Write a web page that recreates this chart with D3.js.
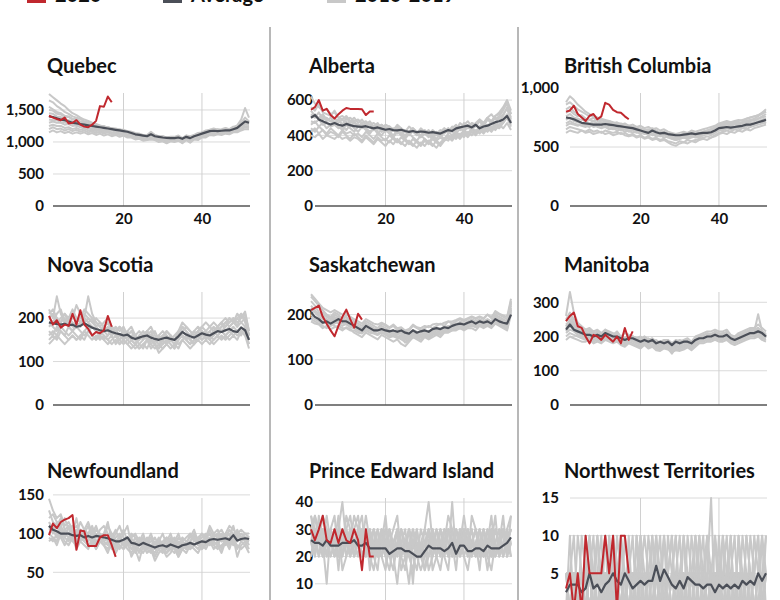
<!DOCTYPE html>
<html>
<head>
<meta charset="utf-8">
<script src="https://cdn.jsdelivr.net/npm/d3@7"></script>
<title>Weekly deaths by province</title>
<style>
body {margin:0; background:#fff;}
text {font-family: Lato, "Open Sans", sans-serif; font-weight:700;}
</style>
</head>
<body>
<div id="chart"></div>
<script>
// ---- data ----
const weeks = d3.range(1, 53);
const xTicks = [20, 40];
const legendLabels = ["2020", "Average", "2010-2019"];
const provinces = ["Quebec", "Alberta", "British Columbia", "Nova Scotia", "Saskatchewan",
                   "Manitoba", "Newfoundland", "Prince Edward Island", "Northwest Territories"];

// Quebec
const quebecTicks = [0, 500, 1000, 1500];
const quebec2020 = [1410,1380,1360,1340,1380,1290,1300,1340,1270,1240,1230,1270,1330,1560,1550,1710,1620];
const quebecAvg = [1400,1390,1370,1350,1340,1320,1300,1290,1280,1270,1260,1250,1240,
  1230,1220,1210,1200,1190,1180,1170,1160,1140,1120,1110,1100,1090,
  1120,1090,1080,1070,1065,1060,1060,1070,1050,1080,1060,1090,1110,
  1130,1150,1170,1175,1170,1175,1180,1180,1200,1220,1270,1320,1300];
const quebecPast = [
  [1750,1700,1650,1600,1560,1500,1450,1420,1380,1350,1330,1300,1280,
   1260,1240,1230,1210,1190,1180,1160,1150,1130,1110,1100,1090,1080,
   1130,1090,1070,1060,1050,1040,1050,1060,1040,1070,1050,1080,1100,
   1120,1150,1170,1180,1170,1180,1190,1200,1220,1260,1350,1530,1380],
  [1650,1620,1560,1520,1470,1440,1400,1380,1360,1320,1310,1280,1270,
   1250,1250,1220,1220,1200,1200,1170,1160,1140,1130,1100,1090,1070,
   1110,1080,1070,1050,1050,1040,1040,1050,1030,1060,1040,1070,1090,
   1120,1140,1160,1180,1160,1170,1190,1190,1210,1250,1300,1380,1320],
  [1450,1440,1400,1390,1350,1340,1320,1310,1290,1290,1270,1270,1250,
   1250,1230,1230,1210,1210,1190,1190,1170,1160,1140,1130,1110,1110,
   1160,1110,1090,1090,1070,1080,1080,1100,1060,1100,1090,1110,1140,
   1150,1180,1190,1210,1190,1200,1220,1200,1240,1250,1290,1330,1310],
  [1350,1340,1340,1310,1310,1280,1280,1250,1260,1230,1240,1210,1220,
   1190,1200,1180,1190,1160,1170,1140,1150,1110,1120,1090,1100,1070,
   1100,1080,1080,1050,1060,1040,1070,1050,1050,1060,1060,1070,1110,
   1110,1150,1150,1180,1150,1180,1160,1190,1180,1220,1240,1300,1280],
  [1300,1320,1300,1300,1270,1280,1250,1260,1230,1240,1210,1220,1190,
   1200,1170,1180,1150,1160,1130,1140,1110,1110,1080,1090,1060,1070,
   1080,1070,1040,1050,1020,1040,1030,1060,1020,1060,1030,1070,1070,
   1110,1110,1150,1140,1160,1150,1170,1160,1190,1190,1250,1270,1270],
  [1250,1270,1250,1250,1220,1230,1200,1220,1190,1210,1180,1190,1170,
   1180,1150,1170,1140,1150,1130,1140,1100,1110,1070,1080,1050,1060,
   1070,1060,1030,1040,1010,1030,1020,1050,1010,1050,1020,1060,1060,
   1100,1100,1140,1130,1150,1140,1160,1150,1180,1180,1230,1240,1250],
  [1200,1230,1200,1210,1180,1200,1170,1190,1160,1180,1150,1170,1140,
   1160,1130,1150,1120,1130,1110,1120,1090,1090,1050,1060,1030,1040,
   1050,1040,1010,1020,990,1020,1010,1030,990,1040,1000,1050,1050,
   1090,1090,1130,1120,1140,1130,1150,1140,1170,1170,1200,1230,1220],
  [1150,1180,1150,1170,1140,1160,1130,1150,1130,1150,1120,1140,1110,
   1130,1100,1120,1090,1110,1080,1100,1070,1070,1040,1050,1020,1030,
   1040,1030,1000,1010,980,1010,1000,1020,980,1030,990,1040,1030,
   1070,1070,1110,1100,1120,1110,1130,1120,1150,1150,1180,1200,1200],
  [1500,1490,1440,1430,1390,1390,1350,1350,1310,1310,1280,1280,1250,
   1250,1220,1230,1200,1200,1170,1180,1140,1150,1120,1130,1100,1100,
   1130,1110,1080,1090,1060,1070,1060,1090,1050,1100,1060,1110,1110,
   1150,1150,1190,1180,1200,1180,1210,1190,1230,1230,1280,1320,1300],
  [1550,1510,1470,1450,1410,1400,1360,1360,1320,1320,1280,1280,1250,
   1250,1210,1220,1190,1190,1160,1170,1140,1140,1110,1110,1080,1090,
   1110,1090,1060,1070,1040,1060,1050,1080,1040,1090,1050,1100,1100,
   1140,1140,1180,1170,1190,1170,1200,1180,1220,1220,1270,1310,1290]
];

// Alberta
const albertaTicks = [0, 200, 400, 600];
const alberta2020 = [545,560,600,540,550,515,495,520,540,555,550,550,550,548,515,535,535];
const albertaAvg = [500,515,490,480,470,462,470,460,455,465,458,452,450,
  448,452,445,440,445,438,432,436,430,428,432,425,420,
  425,418,422,420,415,418,414,410,420,430,425,440,445,
  450,455,445,460,440,450,455,465,475,480,490,510,470];
const albertaPast = [
  [560,540,580,530,520,510,540,500,490,510,480,500,470,
   490,460,480,450,470,440,460,450,430,460,440,420,450,
   430,410,440,420,400,430,410,400,430,420,450,430,470,
   450,440,470,460,490,470,500,480,510,530,560,600,540],
  [520,500,530,490,500,480,470,490,460,480,450,470,460,
   440,470,450,430,460,440,420,450,430,410,440,420,400,
   430,410,390,420,400,380,410,390,420,440,420,450,430,
   460,480,450,470,490,470,500,520,490,510,540,590,520],
  [480,470,490,460,470,450,460,440,450,430,460,440,420,
   450,430,410,440,420,400,430,410,390,420,400,380,410,
   390,370,400,380,360,390,370,350,380,400,390,420,400,
   430,410,440,420,450,430,460,440,470,460,490,520,480],
  [400,390,410,380,400,390,380,400,380,390,370,390,380,
   360,390,370,350,380,360,340,370,350,380,360,340,370,
   350,330,360,340,370,350,330,360,380,370,400,380,410,
   390,420,400,430,410,440,420,450,430,460,440,470,430],
  [500,520,490,510,480,500,470,490,460,500,470,480,450,
   470,440,460,450,430,460,440,420,440,420,400,430,410,
   440,420,400,430,410,390,420,400,380,410,430,410,440,
   420,450,430,460,440,470,450,480,470,500,520,550,490],
  [460,480,450,470,440,460,480,450,430,460,440,420,450,
   470,440,420,440,410,430,450,420,400,430,410,390,420,
   440,410,390,410,430,400,380,410,440,420,400,430,450,
   430,460,440,420,450,470,450,430,460,490,470,510,460],
  [540,510,500,520,490,480,500,470,490,460,480,470,450,
   460,440,460,430,450,420,440,410,430,450,420,400,420,
   440,410,430,410,390,420,400,420,440,410,440,460,430,
   470,450,430,460,480,450,490,470,500,480,510,560,500],
  [440,420,450,430,410,440,420,400,430,410,420,400,410,
   390,420,400,380,410,390,370,400,380,360,390,370,350,
   380,360,340,370,350,380,360,340,370,390,370,400,380,
   410,390,420,400,430,410,440,420,450,440,470,500,450],
  [620,580,560,540,550,520,530,500,510,490,500,480,490,
   470,480,460,470,450,460,440,450,430,440,420,430,410,
   420,400,430,410,420,400,410,430,410,440,420,450,430,
   460,440,470,450,480,460,490,480,510,520,550,580,520],
  [420,440,410,430,400,420,410,390,420,400,380,410,390,
   370,400,380,360,390,370,380,360,390,370,350,380,360,
   340,370,350,380,360,340,370,390,370,400,380,410,390,
   420,400,430,410,440,420,450,440,460,450,480,510,470]
];

// British Columbia
const bcTicks = [0, 500, 1000];
const bc2020 = [800,810,850,780,750,720,765,780,735,760,875,860,815,795,790,760,735];
const bcAvg = [750,745,735,720,705,700,695,690,690,690,695,690,685,
  680,675,670,665,660,650,640,630,620,640,625,615,620,
  610,605,600,600,605,610,615,610,615,620,620,625,640,
  660,665,670,665,670,675,680,690,690,700,710,720,730];
const bcPast = [
  [880,930,900,860,830,800,780,760,740,730,720,710,700,
   690,680,670,660,650,640,630,620,610,630,620,600,610,
   590,580,570,580,590,600,610,600,610,620,630,640,650,
   670,680,690,680,690,700,710,720,730,740,760,790,820],
  [820,840,800,780,760,740,730,720,730,710,700,720,690,
   700,680,690,670,660,670,650,640,630,650,620,630,610,
   600,590,580,590,600,580,590,600,590,610,620,630,640,
   650,660,670,680,670,690,700,710,720,730,740,760,780],
  [760,780,750,740,730,720,700,720,700,710,690,700,680,
   690,670,680,660,670,650,660,640,650,630,640,620,630,
   610,600,590,600,610,600,620,610,620,630,640,650,660,
   680,690,700,690,700,710,700,720,730,720,740,750,760],
  [700,720,700,690,680,670,690,670,680,660,670,650,660,
   640,650,630,640,620,630,610,620,600,610,590,600,580,
   590,570,560,570,580,570,580,590,580,600,610,600,620,
   640,650,660,650,660,670,660,680,690,700,710,730,740],
  [650,670,660,650,640,630,650,630,640,620,640,630,620,
   630,610,620,600,610,590,600,580,590,570,580,560,570,
   550,540,530,550,540,560,550,560,570,580,590,580,600,
   620,630,640,630,650,640,660,650,670,680,690,700,710],
  [620,640,630,620,640,620,630,610,620,630,610,620,600,
   610,620,600,590,600,580,590,570,580,560,570,550,560,
   540,520,510,530,540,530,550,540,560,570,560,580,590,
   610,620,610,630,620,640,630,650,640,660,670,680,690],
  [790,810,780,760,770,740,730,750,720,730,710,720,700,
   710,690,700,680,690,670,680,660,670,650,660,640,650,
   630,620,610,620,630,620,640,630,640,650,660,670,680,
   700,710,720,710,720,730,720,740,750,760,770,790,800],
  [730,750,720,710,700,690,680,700,690,680,670,680,660,
   670,650,660,640,650,630,640,620,630,610,620,600,610,
   590,580,570,580,590,580,600,590,600,610,620,610,630,
   650,660,670,660,670,680,690,700,710,700,720,730,740],
  [680,700,690,680,700,680,670,690,670,660,680,660,650,
   660,640,650,630,640,620,630,610,620,600,610,590,600,
   580,570,560,570,580,570,590,580,590,600,610,620,630,
   650,640,660,650,670,660,680,670,690,700,710,720,700],
  [860,880,850,820,800,780,760,770,750,740,730,720,710,
   700,700,690,680,670,660,650,650,640,660,640,620,630,
   610,600,590,600,610,600,620,610,620,630,640,650,670,
   690,700,710,700,710,720,730,740,750,760,770,780,800]
];

// Nova Scotia
const nsTicks = [0, 100, 200];
const ns2020 = [205,185,195,178,185,182,210,185,218,185,175,160,168,165,172,205,180];
const nsAvg = [190,188,186,185,187,183,185,180,182,188,183,178,175,
  172,170,172,168,165,163,160,162,155,152,155,158,160,
  155,152,150,153,155,152,150,158,168,162,158,155,160,
  165,162,160,165,170,168,172,175,170,168,178,172,150];
const nsPast = [
  [220,200,250,210,190,200,180,190,210,200,250,210,190,
   180,170,160,175,165,180,170,160,150,140,150,160,170,
   150,140,130,150,160,150,140,160,180,170,150,140,160,
   170,150,160,170,180,170,180,190,200,180,210,200,160],
  [190,180,170,190,200,180,170,190,180,200,190,180,170,
   160,170,180,160,170,150,160,170,150,140,160,150,170,
   150,140,150,160,150,140,130,150,170,160,150,160,170,
   160,170,150,160,180,190,170,180,190,200,190,180,150],
  [170,160,180,170,160,180,170,160,150,170,180,160,150,
   170,160,150,160,140,150,160,150,140,130,140,150,160,
   140,130,140,130,140,150,140,150,160,150,140,150,160,
   170,160,150,170,160,170,160,170,180,170,180,170,140],
  [150,160,150,170,160,150,160,150,160,150,170,160,150,
   160,150,140,150,160,140,150,140,130,140,130,140,150,
   130,140,120,130,140,130,140,130,150,140,130,140,150,
   140,150,140,150,160,150,160,150,160,150,170,160,130],
  [200,210,190,200,210,190,200,230,210,190,200,190,180,
   190,180,170,180,170,160,170,160,170,150,160,170,160,
   170,150,160,170,160,150,160,170,190,180,170,160,170,
   180,170,180,190,180,190,180,200,190,210,200,215,170],
  [160,170,160,180,170,160,170,180,170,160,170,180,170,
   160,150,160,170,160,150,140,150,160,150,140,130,150,
   140,150,140,150,140,160,150,140,150,160,150,140,150,
   160,170,160,150,160,170,160,170,160,170,160,180,150],
  [180,190,200,180,190,200,190,180,190,200,190,200,180,
   170,180,170,160,170,160,150,160,150,160,150,160,150,
   160,170,150,140,150,160,150,170,160,150,160,170,160,
   150,160,170,160,170,180,190,180,190,180,190,200,160],
  [210,220,200,190,210,200,220,200,190,210,200,190,200,
   190,180,190,170,180,170,180,160,170,160,150,160,170,
   160,150,160,150,170,160,150,160,170,180,170,160,170,
   180,190,180,170,180,190,200,190,200,190,200,210,170],
  [140,150,160,150,140,150,160,150,160,170,160,150,160,
   150,160,150,140,150,140,150,140,150,140,130,140,130,
   150,140,130,140,150,140,130,150,160,150,140,150,160,
   150,160,150,140,150,160,150,160,170,160,170,160,140],
  [200,190,210,220,190,200,210,190,200,220,210,200,190,
   180,190,200,180,170,180,160,170,180,160,170,160,170,
   180,160,150,160,170,160,150,160,180,170,160,170,180,
   170,160,170,180,170,180,190,200,190,200,210,190,160]
];

// Saskatchewan
const saskTicks = [0, 100, 200];
const sask2020 = [210,215,220,195,180,165,152,175,195,211,190,171,202,189];
const saskAvg = [205,195,190,182,185,180,185,190,185,185,180,175,170,
  165,175,170,165,165,168,165,163,165,162,165,160,158,
  165,160,163,165,162,168,170,168,172,170,175,178,180,
  178,182,185,180,185,182,185,180,190,185,182,180,200];
const saskPast = [
  [240,230,220,210,200,195,205,200,190,200,195,185,180,
   175,185,180,175,170,180,175,170,175,165,170,160,165,
   175,170,165,170,175,170,175,180,175,185,180,185,190,
   185,190,195,190,195,190,200,195,205,200,195,190,230],
  [220,210,200,205,195,190,200,195,190,195,185,180,175,
   170,180,175,170,165,175,170,165,160,165,160,150,155,
   165,160,160,165,160,165,170,165,175,170,180,175,185,
   180,185,190,185,190,185,190,185,200,195,190,185,225],
  [200,195,190,185,180,175,185,180,175,180,175,170,165,
   160,170,165,160,155,165,160,150,155,150,145,140,145,
   155,150,150,155,150,160,165,160,165,170,170,175,175,
   170,175,180,175,180,175,180,175,185,180,175,170,210],
  [190,185,180,175,170,178,175,170,165,172,168,160,155,
   150,160,155,150,145,155,150,145,140,145,135,130,140,
   150,145,140,150,145,150,155,150,160,160,165,165,170,
   165,170,170,165,175,170,175,170,180,175,170,165,200],
  [210,205,200,195,190,185,195,190,185,190,185,175,175,
   165,175,170,165,170,170,165,160,165,155,160,150,150,
   160,155,155,160,155,165,165,165,170,175,175,180,180,
   175,180,185,180,185,180,185,180,195,190,185,180,220],
  [230,220,205,195,200,190,190,195,190,185,180,180,170,
   165,175,170,160,165,165,160,155,160,150,155,145,150,
   160,150,150,160,150,160,160,160,165,170,170,170,175,
   175,180,180,175,180,180,185,175,190,185,180,175,215],
  [185,180,178,170,175,168,172,175,170,170,165,165,160,
   158,165,160,158,155,160,155,150,152,148,150,138,142,
   150,148,145,152,148,155,158,155,162,162,165,168,170,
   168,172,175,172,175,172,178,172,182,178,172,168,205],
  [245,235,225,215,210,205,210,205,200,205,195,190,185,
   180,190,185,180,178,182,178,172,178,170,172,165,168,
   178,172,170,175,172,178,180,178,182,185,185,188,192,
   188,192,196,192,196,192,200,192,208,202,198,195,235],
  [195,190,185,180,182,175,180,185,180,178,172,170,165,
   160,168,165,160,158,162,158,152,155,150,152,145,148,
   155,152,150,155,152,158,160,158,165,165,168,172,174,
   170,175,178,174,178,176,180,176,188,184,178,175,212],
  [215,205,195,190,188,182,190,192,188,186,180,178,172,
   168,178,172,168,166,170,166,160,165,158,162,155,158,
   166,162,160,166,162,168,170,168,172,174,176,180,182,
   178,182,186,182,186,184,188,184,196,190,186,182,228]
];

// Manitoba
const mbTicks = [0, 100, 200, 300];
const mb2020 = [245,260,270,230,225,200,180,205,200,190,205,195,185,200,180,225,190,215];
const mbAvg = [220,235,220,215,210,205,205,200,205,200,210,205,200,
  200,195,190,195,195,190,185,190,185,190,180,185,180,
  185,175,185,180,185,185,180,190,195,195,200,200,205,
  200,200,205,195,190,195,200,205,210,210,215,210,200];
const mbPast = [
  [260,330,270,240,230,220,225,215,220,210,220,215,210,
   205,200,210,205,200,195,200,190,195,185,190,180,185,
   190,180,185,190,185,190,185,195,200,205,210,205,215,
   210,205,215,200,195,205,210,215,220,215,265,215,205],
  [230,250,235,225,215,210,205,200,210,205,215,205,200,
   210,195,190,200,195,190,185,195,185,190,180,175,185,
   180,170,180,175,180,185,175,190,195,195,200,205,210,
   200,205,210,195,190,200,205,210,215,220,225,210,200],
  [210,220,215,205,200,195,200,190,195,190,200,195,190,
   195,185,180,190,185,180,175,185,175,180,170,165,175,
   170,160,170,165,170,175,170,180,190,190,195,195,200,
   195,195,200,190,185,190,195,200,205,205,210,200,195],
  [200,210,205,200,195,190,195,185,190,185,195,190,185,
   190,180,175,185,180,175,170,180,170,175,165,160,170,
   165,150,165,160,165,170,165,175,185,185,190,190,195,
   190,190,195,185,180,185,190,195,200,200,205,195,190],
  [245,260,240,230,225,215,220,210,215,205,220,210,205,
   215,200,195,205,200,195,190,200,190,195,185,185,190,
   190,180,190,185,190,195,185,200,205,210,215,215,220,
   215,215,220,205,200,210,215,220,225,225,235,225,215],
  [190,200,195,190,185,185,190,180,185,180,190,185,180,
   185,175,170,180,175,170,165,175,165,170,160,158,165,
   162,155,160,158,162,168,160,170,180,180,185,185,190,
   185,185,190,180,175,180,185,190,195,195,200,190,185],
  [225,240,225,215,210,205,210,200,205,200,210,200,195,
   205,190,185,195,190,185,180,190,180,185,175,170,180,
   175,165,175,170,175,180,175,185,195,195,200,200,205,
   200,200,205,195,190,195,200,205,210,210,215,205,200],
  [235,245,230,220,220,210,215,205,210,200,215,205,200,
   210,195,190,200,195,190,185,195,185,190,180,178,185,
   182,172,182,178,182,188,180,192,198,200,205,205,210,
   205,205,210,198,192,200,205,210,215,215,220,212,205],
  [215,230,220,210,205,200,205,195,200,195,205,198,192,
   200,188,182,192,188,182,178,188,178,182,172,168,178,
   172,162,172,168,172,178,172,182,190,190,196,196,202,
   196,196,202,192,186,192,198,202,208,208,212,202,196],
  [250,270,250,235,225,220,215,210,210,205,215,210,205,
   210,195,195,205,200,195,190,200,190,192,185,180,188,
   185,175,185,180,185,190,182,195,200,202,208,208,212,
   208,210,212,202,198,205,208,214,218,218,225,215,208]
];

// Newfoundland
const nlTicks = [0, 50, 100, 150];
const nl2020 = [98,113,107,115,118,120,124,79,104,103,84,84,84,95,98,98,85,70];
const nlAvg = [110,105,103,100,100,100,98,97,98,95,97,95,97,
  96,95,94,92,90,90,92,95,88,87,85,88,86,
  84,82,84,85,83,86,84,82,85,86,88,86,88,
  90,89,92,93,92,93,94,92,98,91,93,94,93];
const nlPast = [
  [145,130,120,125,110,115,105,110,100,105,95,100,90,
   95,100,90,85,95,100,85,90,95,80,90,85,95,
   80,85,90,80,85,95,80,90,85,80,90,100,85,
   90,95,100,90,95,100,90,95,110,90,95,100,95],
  [120,125,115,110,120,105,110,100,115,105,100,110,95,
   105,110,100,95,105,90,100,110,85,95,90,100,85,
   95,80,90,100,85,90,95,85,90,95,100,90,95,
   100,90,105,95,100,90,95,105,100,95,100,95,90],
  [100,105,95,110,100,95,105,90,100,95,90,100,85,
   95,90,85,95,80,90,85,95,80,85,75,90,80,
   85,70,80,85,75,80,90,75,85,80,90,85,80,
   90,85,95,85,90,80,95,85,100,80,90,95,85],
  [90,95,85,100,90,85,95,80,90,85,80,95,80,
   90,85,75,90,75,85,80,90,70,80,65,85,75,
   80,65,75,80,70,75,85,70,80,75,85,80,75,
   85,80,90,80,85,75,90,80,95,70,85,90,80],
  [110,100,115,105,95,110,100,120,95,105,115,100,110,
   95,100,115,90,100,110,95,85,100,95,85,95,90,
   100,85,95,85,90,100,85,95,90,85,100,95,90,
   100,95,110,100,105,95,100,110,105,100,105,100,95],
  [130,115,110,120,105,100,110,95,105,100,110,95,105,
   100,95,110,100,90,95,105,90,95,100,90,95,85,
   90,95,85,90,95,85,90,100,85,90,95,105,90,
   95,100,90,95,100,105,95,100,95,105,95,100,100],
  [95,90,100,95,85,95,90,85,95,90,85,90,80,
   90,85,80,90,85,80,90,80,75,85,80,75,85,
   80,75,85,80,75,85,80,70,80,85,80,85,90,
   80,85,90,85,80,85,90,85,90,85,80,85,75],
  [105,110,100,95,105,100,95,105,90,100,95,90,100,
   95,90,95,85,90,95,85,90,85,90,85,90,80,
   85,90,80,85,80,90,85,80,90,85,90,95,85,
   90,95,90,95,90,95,100,90,95,90,95,90,90],
  [115,105,110,100,105,110,95,100,105,95,100,105,95,
   100,90,95,100,85,95,90,95,90,85,95,80,90,
   95,80,90,85,95,85,90,85,95,90,85,90,95,
   85,95,90,100,95,90,95,100,90,95,100,95,95],
  [100,95,90,105,95,90,100,85,95,90,100,85,90,
   95,85,90,80,90,85,80,85,90,75,85,90,80,
   75,85,80,75,85,80,75,85,80,90,80,85,90,
   80,90,85,90,85,95,85,90,85,100,90,85,95]
];

// Prince Edward Island
const peiTicks = [0, 10, 20, 30, 40];
const pei2020 = [30,26,30,35,26,25,30,25,30,26,25,30,26,15,30,20,20];
const peiAvg = [26,25,25,24,26,24,24,24,25,25,25,26,24,
  24,25,23,23,23,23,23,21,22,23,23,22,22,
  21,20,20,22,24,23,23,23,22,23,25,21,24,
  24,22,22,23,23,22,24,23,23,23,24,25,27];
const peiPast = [
  [35,30,25,35,30,20,25,30,40,25,20,30,35,
   25,30,20,25,30,20,15,25,30,35,20,25,30,
   20,15,25,30,40,25,20,30,25,35,30,20,25,
   30,20,35,30,25,20,30,25,35,20,25,30,25],
  [25,20,30,25,10,30,35,20,25,30,25,20,30,
   25,35,25,20,15,30,25,20,25,30,15,20,25,
   30,20,25,15,20,30,25,20,30,25,20,25,30,
   20,25,30,20,25,30,20,15,25,30,20,25,30],
  [30,25,20,30,25,30,20,25,20,35,30,25,20,
   30,25,20,30,25,20,25,30,20,25,30,20,10,
   25,20,30,25,15,20,25,30,20,15,30,25,20,
   25,30,25,20,30,25,20,30,20,25,30,20,25],
  [20,30,25,20,30,25,30,15,30,25,20,30,25,
   20,25,30,20,25,30,20,15,25,20,25,30,20,
   25,30,20,25,30,25,20,15,25,20,25,30,25,
   20,15,25,30,20,25,30,20,25,30,20,25,30],
  [25,35,30,20,25,30,25,30,15,20,30,25,30,
   35,20,25,30,20,25,30,25,20,10,25,20,30,
   25,20,15,20,25,20,30,25,20,30,25,20,30,
   25,30,20,25,15,30,25,20,30,25,35,20,25],
  [30,20,35,25,20,25,30,20,25,30,35,25,20,
   25,30,15,25,20,25,35,20,15,25,30,25,20,
   15,25,20,25,30,20,25,30,25,20,40,20,25,
   30,25,20,25,30,20,25,35,20,25,30,25,20],
  [20,25,30,30,25,20,25,35,20,25,30,20,25,
   30,20,30,25,20,30,25,20,25,30,20,15,25,
   20,25,20,30,25,30,20,25,20,30,25,15,30,
   25,20,25,30,25,20,25,30,25,20,25,30,35],
  [25,30,20,25,35,25,20,25,30,20,25,35,30,
   20,25,30,20,30,25,20,30,20,25,20,25,30,
   25,20,25,20,30,15,20,25,30,25,20,30,25,
   35,25,30,20,25,30,25,20,25,20,30,25,30],
  [35,25,30,20,25,30,20,30,25,30,20,25,30,
   25,20,25,30,25,20,30,25,20,30,25,20,25,
   10,30,20,25,20,25,30,20,25,30,20,25,20,
   30,20,25,30,20,25,15,25,30,25,20,30,20],
  [30,35,25,30,20,30,25,20,30,25,30,20,25,
   30,25,20,15,25,20,25,30,25,20,30,25,20,
   30,25,20,15,25,30,20,25,30,20,25,30,20,
   25,30,20,25,30,20,25,30,20,25,30,20,35]
];

// Northwest Territories
const nwtTicks = [0, 5, 10, 15];
const nwt2020 = [3,5,0,5,0,10,5,5,5,5,10,5,10,0,10,10,5];
const nwtAvg = [2.5,3.5,3.5,3.5,2.5,3,5,3,3.5,2.5,3.5,4,5,
  4,3.5,5,4,3,3.5,4,3.5,4,4,6,4,5.5,
  4.5,3.5,3,4,3,4.5,4,3.5,3.5,3,3.5,3.5,2.5,
  3.5,3,3.5,3,3.5,3,4,3.5,4,3.5,5,4,5];
const nwtPast = [
  [0,5,0,10,5,0,5,0,5,10,0,5,0, 5,0,10,5,0,5,0,5,0,10,5,0,5,
   0,5,10,0,5,0,5,0,5,10,0,5,0, 5,0,5,10,0,5,0,5,0,5,10,0,5],
  [5,0,5,0,10,5,0,5,0,5,0,10,5, 0,5,0,5,10,0,5,0,5,0,5,10,0,
   5,10,0,5,0,5,0,10,5,0,5,15,0, 5,10,0,5,0,5,0,10,5,0,5,0,10],
  [0,0,5,5,0,5,10,0,0,5,5,0,10, 5,0,5,0,5,0,10,0,5,5,10,0,5,
   0,0,5,10,0,5,0,5,0,5,10,0,5, 0,5,0,5,0,10,5,0,5,0,5,5,0],
  [5,5,0,5,0,0,10,5,5,0,5,5,0, 10,5,0,5,0,10,0,5,0,5,0,5,10,
   5,0,5,0,5,0,10,5,0,0,5,5,0, 10,0,5,0,5,0,5,0,10,5,0,5,5],
  [0,5,10,0,5,0,0,5,10,0,0,5,5, 0,10,5,0,5,0,5,10,5,0,5,0,0,
   10,5,0,5,0,10,5,0,5,0,5,0,5, 0,5,10,0,5,0,10,5,0,0,5,10,5],
  [5,0,5,0,0,10,5,0,5,5,0,10,0, 5,5,0,10,0,5,5,0,10,5,0,5,5,
   0,5,10,0,5,0,5,0,10,5,0,5,5, 0,10,5,0,5,5,0,5,0,10,5,0,5],
  [0,0,0,5,5,0,5,10,0,5,10,0,5, 0,0,5,5,0,10,5,0,0,5,5,0,10,
   0,5,0,5,10,0,5,5,0,0,10,5,0, 5,0,0,5,10,0,5,0,5,0,0,5,10],
  [5,5,5,0,0,5,0,5,5,0,5,0,10, 0,5,5,0,5,5,0,5,5,0,10,5,0,
   5,0,5,0,0,5,5,10,0,5,0,0,5, 5,5,0,10,0,5,5,0,5,5,0,10,0],
  [0,10,0,5,0,5,5,0,10,5,0,5,0, 5,10,0,5,5,0,5,0,5,10,0,5,0,
   5,10,0,5,5,0,0,5,10,0,5,0,10, 5,0,5,5,0,10,0,5,0,5,10,0,5],
  [5,0,5,0,5,5,0,5,0,0,10,5,0, 5,0,5,0,0,5,10,5,0,0,5,5,0,
   0,5,5,0,10,5,0,0,5,5,0,5,10, 0,5,0,5,5,0,0,10,5,0,5,5,0]
];

// scale tops for each panel, same order as provinces
const domainTops = [1765, 640, 958, 260, 250, 330, 146, 41.5, 15];

const panels = [
  {past: quebecPast, avg: quebecAvg, now: quebec2020, ticks: quebecTicks},
  {past: albertaPast, avg: albertaAvg, now: alberta2020, ticks: albertaTicks},
  {past: bcPast, avg: bcAvg, now: bc2020, ticks: bcTicks},
  {past: nsPast, avg: nsAvg, now: ns2020, ticks: nsTicks},
  {past: saskPast, avg: saskAvg, now: sask2020, ticks: saskTicks},
  {past: mbPast, avg: mbAvg, now: mb2020, ticks: mbTicks},
  {past: nlPast, avg: nlAvg, now: nl2020, ticks: nlTicks},
  {past: peiPast, avg: peiAvg, now: pei2020, ticks: peiTicks},
  {past: nwtPast, avg: nwtAvg, now: nwt2020, ticks: nwtTicks}
];

// ---- layout ----
const colLeft = [49, 311, 566];
const labelRight = [44, 313, 559];
const rowBase = [206, 405, 611];
const plotW = 200, plotH = 113;
const red = "#c0282e", dark = "#4b4f58", light = "#c8c8c8";

const svg = d3.select("#chart").append("svg")
  .attr("width", 780)
  .attr("height", 600);

// column separators
svg.selectAll(".sep").data([270, 518]).enter()
  .append("line")
  .attr("x1", d => d).attr("x2", d => d)
  .attr("y1", 27).attr("y2", 600)
  .attr("stroke", "#a0a0a0")
  .attr("stroke-width", 1.5);

// legend (cut at the top edge)
const legendX = [27, 163, 327];
const legendColors = [red, dark, light];
const leg = svg.selectAll(".leg").data(legendLabels).enter().append("g");
leg.append("rect")
  .attr("x", (d, i) => legendX[i]).attr("y", -16)
  .attr("width", 19).attr("height", 19)
  .attr("fill", (d, i) => legendColors[i]);
leg.append("text")
  .attr("x", (d, i) => legendX[i] + 28).attr("y", 2)
  .attr("font-size", 20).attr("fill", "#111")
  .text(d => d);

panels.forEach(function(p, i) {
  const col = i % 3, row = Math.floor(i / 3);
  const left = colLeft[col], base = rowBase[row];
  const top = domainTops[i];

  const x = d3.scaleLinear().domain([1, 52]).range([left, left + plotW]);
  const y = d3.scaleLinear().domain([0, top]).range([base, base - plotH]);

  const g = svg.append("g");

  // horizontal grid
  g.selectAll(".hgrid")
    .data(p.ticks.filter(t => t > 0 && t <= top * 1.03))
    .enter().append("line")
    .attr("x1", x(1) + 4).attr("x2", x(52) + 1)
    .attr("y1", d => y(d)).attr("y2", d => y(d))
    .attr("stroke", "#dadada").attr("stroke-width", 1);

  // vertical grid
  g.selectAll(".vgrid").data(xTicks).enter().append("line")
    .attr("x1", d => x(d)).attr("x2", d => x(d))
    .attr("y1", y(top)).attr("y2", base)
    .attr("stroke", "#d0d0d0").attr("stroke-width", 1);

  // baseline
  g.append("line")
    .attr("x1", x(1) + 4).attr("x2", x(52) + 1)
    .attr("y1", base).attr("y2", base)
    .attr("stroke", "#555").attr("stroke-width", 1.5);

  // y axis labels
  const yAxis = d3.axisLeft(y).tickValues(p.ticks).tickSize(0).tickPadding(0)
    .tickFormat(d3.format(","));
  const ya = g.append("g")
    .attr("transform", "translate(" + labelRight[col] + ",0)")
    .call(yAxis);
  ya.select(".domain").remove();
  ya.attr("font-family", null).attr("font-size", null);
  ya.selectAll("text").attr("font-size", 15).attr("fill", "#111");

  // x axis labels only on the top row
  if (row === 0) {
    const xAxis = d3.axisBottom(x).tickValues(xTicks).tickSize(0).tickPadding(7);
    const xa = g.append("g")
      .attr("transform", "translate(0," + base + ")")
      .call(xAxis);
    xa.select(".domain").remove();
    xa.attr("font-family", null).attr("font-size", null);
    xa.selectAll("text").attr("font-size", 15).attr("fill", "#111");
  }

  const line = d3.line()
    .x((d, k) => x(weeks[k]))
    .y(d => y(d));

  g.selectAll(".past").data(p.past).enter().append("path")
    .attr("d", line)
    .attr("fill", "none")
    .attr("stroke", light)
    .attr("stroke-width", 2)
    .attr("stroke-linejoin", "round");

  g.append("path").datum(p.avg)
    .attr("d", line)
    .attr("fill", "none")
    .attr("stroke", dark)
    .attr("stroke-width", 2.2)
    .attr("stroke-linejoin", "round");

  g.append("path").datum(p.now)
    .attr("d", line)
    .attr("fill", "none")
    .attr("stroke", red)
    .attr("stroke-width", 2)
    .attr("stroke-linejoin", "round");

  // title
  g.append("text")
    .attr("x", left - 2)
    .attr("y", base - 133)
    .attr("font-size", 20)
    .attr("fill", "#111")
    .text(provinces[i]);
});
</script>
</body>
</html>
